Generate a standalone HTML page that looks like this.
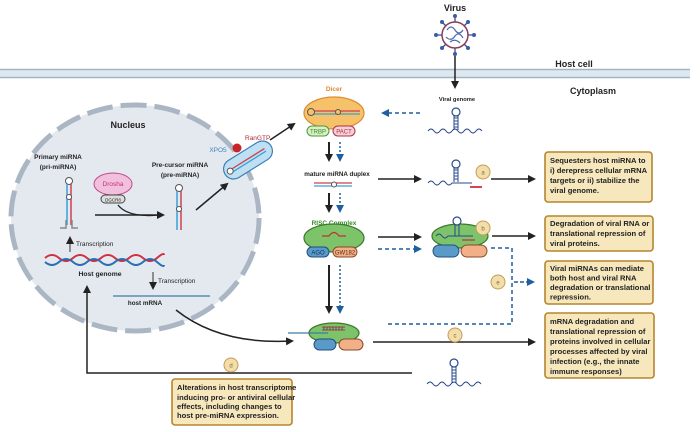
<!DOCTYPE html>
<html><head><meta charset="utf-8"><style>
body{margin:0;background:#fff;}
svg{display:block;font-family:"Liberation Sans",sans-serif;}
.t{font-weight:bold;fill:#222;}
.bx{fill:#f6e7bd;stroke:#b5862e;stroke-width:1.6;}
.bt{font-size:7.6px;font-weight:bold;fill:#222;}
.ci{fill:#f1deaa;stroke:#c79b52;stroke-width:1;}
.ct{font-size:6px;fill:#8a6a30;text-anchor:middle;}
</style></head><body>
<svg width="700" height="432" viewBox="0 0 700 432">
<defs>
<marker id="ak" markerWidth="8" markerHeight="8" refX="6" refY="4" orient="auto" markerUnits="userSpaceOnUse"><path d="M0,0 L8,4 L0,8 z" fill="#222"/></marker>
<marker id="ab" markerWidth="8" markerHeight="8" refX="6" refY="4" orient="auto" markerUnits="userSpaceOnUse"><path d="M0,0 L8,4 L0,8 z" fill="#1f5fa0"/></marker>
</defs>
<rect x="0" y="69" width="690" height="9" fill="#dfe8ef"/>
<line x1="0" y1="69.5" x2="690" y2="69.5" stroke="#9fb6c8" stroke-width="1.5"/>
<line x1="0" y1="77.5" x2="690" y2="77.5" stroke="#9fb6c8" stroke-width="1.5"/>
<text x="574" y="67" class="t" font-size="9" text-anchor="middle">Host cell</text>
<text x="593" y="94" class="t" font-size="9" text-anchor="middle">Cytoplasm</text>
<text x="455" y="11" class="t" font-size="9" text-anchor="middle">Virus</text>
<g stroke="#2f4f9a" stroke-width="1.3">
<line x1="455" y1="16" x2="455" y2="54"/><line x1="436" y1="35" x2="474" y2="35"/>
<line x1="442" y1="22" x2="468" y2="48"/><line x1="468" y1="22" x2="442" y2="48"/>
</g>
<g fill="#3a5ba8"><circle cx="455" cy="16" r="2"/><circle cx="455" cy="54" r="2"/><circle cx="436" cy="35" r="2"/><circle cx="474" cy="35" r="2"/><circle cx="442" cy="22" r="2"/><circle cx="468" cy="48" r="2"/><circle cx="468" cy="22" r="2"/><circle cx="442" cy="48" r="2"/></g>
<circle cx="455" cy="35" r="13" fill="#fff" stroke="#8a3b5a" stroke-width="1.5"/>
<path d="M447,30 q4,-6 8,0 q4,6 8,0 M446,37 q5,5 9,-1 q4,-5 8,2 M450,42 q5,-4 10,1" fill="none" stroke="#4a6ab0" stroke-width="1.2"/>
<line x1="455" y1="56" x2="455" y2="87" stroke="#222" stroke-width="1.5" marker-end="url(#ak)"/>
<ellipse cx="135" cy="218" rx="124" ry="113" fill="#e4e9ef" stroke="#aab6c3" stroke-width="5" stroke-dasharray="26,8"/>
<text x="128" y="128" class="t" font-size="9" text-anchor="middle">Nucleus</text>
<text x="58" y="159" class="t" font-size="6.5" text-anchor="middle">Primary miRNA</text>
<text x="58" y="169" class="t" font-size="6.5" text-anchor="middle">(pri-miRNA)</text>
<circle cx="69" cy="181" r="3.5" fill="#fff" stroke="#555"/>
<line x1="67" y1="184" x2="67" y2="225" stroke="#3aa0d8" stroke-width="1.5"/>
<line x1="71" y1="184" x2="71" y2="225" stroke="#d04050" stroke-width="1.5"/>
<circle cx="69" cy="197" r="2.5" fill="#fff" stroke="#555"/>
<path d="M60,228 h6 v-8 M78,228 h-6 v-8" fill="none" stroke="#888" stroke-width="1.5"/>
<ellipse cx="113" cy="184" rx="19" ry="11" fill="#f2bfdc" stroke="#c04a8a" stroke-width="1"/>
<text x="113" y="186" font-size="6.5" fill="#c0307a" text-anchor="middle">Drosha</text>
<rect x="101" y="195" width="24" height="8" rx="4" fill="#ddd" stroke="#444"/>
<text x="113" y="201.5" font-size="4.5" fill="#222" text-anchor="middle">DGCR8</text>
<path d="M118,205 Q128,218 160,215" fill="none" stroke="#222" stroke-width="1.3"/>
<line x1="95" y1="215" x2="163" y2="215" stroke="#222" stroke-width="1.5" marker-end="url(#ak)"/>
<text x="180" y="167" class="t" font-size="6.5" text-anchor="middle">Pre-cursor miRNA</text>
<text x="180" y="177" class="t" font-size="6.5" text-anchor="middle">(pre-miRNA)</text>
<circle cx="179" cy="188" r="3.5" fill="#fff" stroke="#555"/>
<line x1="177" y1="191" x2="177" y2="230" stroke="#3aa0d8" stroke-width="1.5"/>
<line x1="181" y1="191" x2="181" y2="230" stroke="#d04050" stroke-width="1.5"/>
<circle cx="179" cy="209" r="2.5" fill="#fff" stroke="#555"/>
<line x1="196" y1="210" x2="227" y2="184" stroke="#222" stroke-width="1.5" marker-end="url(#ak)"/>
<g transform="translate(248,160) rotate(-32)">
<rect x="-27" y="-10" width="54" height="20" rx="10" fill="#bfe0f3" stroke="#3a7fb8" stroke-width="1.2"/>
<line x1="-20" y1="-1" x2="20" y2="-1" stroke="#d04050" stroke-width="1.3"/>
<line x1="-20" y1="2" x2="20" y2="2" stroke="#3aa0d8" stroke-width="1.3"/>
<circle cx="-21" cy="0" r="3" fill="#fff" stroke="#555"/>
</g>
<circle cx="237" cy="148" r="4.5" fill="#c8252b"/>
<text x="245" y="140" font-size="6.5" fill="#b02a30">RanGTP</text>
<text x="218" y="152" font-size="6.5" fill="#3a85c0" text-anchor="middle">XPO5</text>
<line x1="270" y1="140" x2="294" y2="124" stroke="#222" stroke-width="1.5" marker-end="url(#ak)"/>
<path d="M45,258 q7,-6 14,0 t14,0 t14,0 t14,0 t14,0 t14,0 t14,0 t14,0 t7,-3" fill="none" stroke="#d03040" stroke-width="2"/>
<path d="M45,262 q7,6 14,0 t14,0 t14,0 t14,0 t14,0 t14,0 t14,0 t14,0 t7,3" fill="none" stroke="#2a6fb5" stroke-width="2"/>
<text x="100" y="276" class="t" font-size="6.8" text-anchor="middle">Host genome</text>
<line x1="70" y1="252" x2="70" y2="238" stroke="#333" stroke-width="1" marker-end="url(#ak)"/>
<text x="76" y="246" font-size="6.5" fill="#222">Transcription</text>
<line x1="153" y1="272" x2="153" y2="288" stroke="#333" stroke-width="1" marker-end="url(#ak)"/>
<text x="158" y="283" font-size="6.5" fill="#222">Transcription</text>
<line x1="113" y1="296" x2="210" y2="296" stroke="#3a7fa8" stroke-width="1.2"/>
<text x="145" y="305" class="t" font-size="6.3" text-anchor="middle">host mRNA</text>
<path d="M176,310 Q220,345 292,341" fill="none" stroke="#222" stroke-width="1.5" marker-end="url(#ak)"/>
<text x="334" y="91" font-size="6.5" font-weight="bold" fill="#e08a30" text-anchor="middle">Dicer</text>
<ellipse cx="334" cy="113" rx="30" ry="16" fill="#f5c26a" stroke="#e08a30" stroke-width="1.2"/>
<line x1="313" y1="111" x2="360" y2="111" stroke="#d04050" stroke-width="1.2"/>
<line x1="313" y1="114" x2="360" y2="114" stroke="#3aa0d8" stroke-width="1.2"/>
<circle cx="311" cy="112" r="3.5" fill="#f5c26a" stroke="#555"/>
<circle cx="338" cy="112" r="2.5" fill="#f5c26a" stroke="#555"/>
<rect x="307" y="126" width="22" height="10" rx="5" fill="#d9efc4" stroke="#4a9a3a"/>
<text x="318" y="133.5" font-size="6" fill="#3a8a2a" text-anchor="middle">TRBP</text>
<rect x="333" y="126" width="22" height="10" rx="5" fill="#f6d0d6" stroke="#b0304a"/>
<text x="344" y="133.5" font-size="6" fill="#b0304a" text-anchor="middle">PACT</text>
<line x1="420" y1="113" x2="383" y2="113" stroke="#1f5fa0" stroke-width="1.5" stroke-dasharray="4,3" marker-end="url(#ab)"/>
<text x="457" y="101" class="t" font-size="5.8" text-anchor="middle">Viral genome</text>
<circle cx="456" cy="112" r="4" fill="#fff" stroke="#2a4a8a" stroke-width="1.2"/>
<path d="M454,115 v15 M458,115 v15 M454,118h4M454,121h4M454,124h4M454,127h4" stroke="#2a4a8a" stroke-width="1"/>
<path d="M428,131 q3,-4 6,0 t6,0 t6,0 t6,0 t6,0 t6,0 t6,0 t6,0 t6,0" fill="none" stroke="#2a4a8a" stroke-width="1"/>
<line x1="329" y1="142" x2="329" y2="160" stroke="#222" stroke-width="2" marker-end="url(#ak)"/>
<line x1="340" y1="142" x2="340" y2="160" stroke="#1f5fa0" stroke-width="1.5" stroke-dasharray="2,2" marker-end="url(#ab)"/>
<text x="337" y="176" class="t" font-size="6.3" text-anchor="middle">mature miRNA duplex</text>
<line x1="314" y1="183" x2="352" y2="183" stroke="#d04050" stroke-width="1.2"/>
<line x1="314" y1="186" x2="352" y2="186" stroke="#3aa0d8" stroke-width="1.2"/>
<circle cx="334" cy="184.5" r="2.5" fill="#fff" stroke="#555"/>
<line x1="329" y1="193" x2="329" y2="211" stroke="#222" stroke-width="2" marker-end="url(#ak)"/>
<line x1="340" y1="193" x2="340" y2="211" stroke="#1f5fa0" stroke-width="1.5" stroke-dasharray="2,2" marker-end="url(#ab)"/>
<text x="334" y="225" font-size="6.5" font-weight="bold" fill="#3a8a2a" text-anchor="middle">RISC Complex</text>
<ellipse cx="334" cy="238" rx="30" ry="14" fill="#7cc36a" stroke="#3a7a2a" stroke-width="1.2"/>
<path d="M322,236 h7 q5,-7 10,0 h7" fill="none" stroke="#c03030" stroke-width="1.2"/>
<rect x="307" y="247" width="22" height="10" rx="5" fill="#5a9ac8" stroke="#1f4f80"/>
<text x="318" y="254.5" font-size="6" fill="#10305a" text-anchor="middle">AGO</text>
<rect x="333" y="247" width="24" height="10" rx="5" fill="#f2b088" stroke="#8a4a2a"/>
<text x="345" y="254.5" font-size="6" fill="#5a2a10" text-anchor="middle">GW182</text>
<line x1="329" y1="265" x2="329" y2="312" stroke="#222" stroke-width="2" marker-end="url(#ak)"/>
<line x1="340" y1="265" x2="340" y2="312" stroke="#1f5fa0" stroke-width="1.5" stroke-dasharray="2,2" marker-end="url(#ab)"/>
<line x1="378" y1="179" x2="420" y2="179" stroke="#222" stroke-width="1.5" marker-end="url(#ak)"/>
<circle cx="456" cy="164" r="4" fill="#fff" stroke="#2a4a8a" stroke-width="1.2"/>
<path d="M454,167 v15 M458,167 v15 M454,170h4M454,173h4M454,176h4M454,179h4" stroke="#2a4a8a" stroke-width="1"/>
<path d="M428,183 q3,-4 6,0 t6,0 t6,0 t6,0 h20" fill="none" stroke="#2a4a8a" stroke-width="1"/>
<line x1="470" y1="187" x2="482" y2="187" stroke="#d03040" stroke-width="1.8"/>
<circle cx="483" cy="172" r="7" class="ci"/><text x="483" y="174.5" class="ct">a</text>
<line x1="491" y1="179" x2="534" y2="179" stroke="#222" stroke-width="1.5" marker-end="url(#ak)"/>
<rect x="545" y="152" width="107" height="50" rx="3" class="bx"/>
<text class="bt"><tspan x="550" y="163">Sequesters host miRNA to</tspan><tspan x="550" y="173">i) derepress cellular mRNA</tspan><tspan x="550" y="183">targets or ii) stabilize the</tspan><tspan x="550" y="193">viral genome.</tspan></text>
<line x1="378" y1="237" x2="420" y2="237" stroke="#222" stroke-width="1.5" marker-end="url(#ak)"/>
<line x1="378" y1="249" x2="420" y2="249" stroke="#1f5fa0" stroke-width="1.5" stroke-dasharray="4,3" marker-end="url(#ab)"/>
<ellipse cx="460" cy="236" rx="28" ry="12" fill="#7cc36a" stroke="#3a7a2a" stroke-width="1.2"/>
<circle cx="457" cy="221" r="4" fill="#fff" stroke="#2a4a8a" stroke-width="1.2"/>
<path d="M455,224 v12 M459,224 v12" stroke="#2a4a8a" stroke-width="1"/>
<path d="M436,236 q3,-4 6,0 t6,0 h25" fill="none" stroke="#2a4a8a" stroke-width="1"/>
<line x1="462" y1="240" x2="475" y2="240" stroke="#d03040" stroke-width="1.3"/>
<rect x="433" y="245" width="26" height="12" rx="6" fill="#5a9ac8" stroke="#1f4f80"/>
<rect x="461" y="245" width="26" height="12" rx="6" fill="#f2b088" stroke="#8a4a2a"/>
<circle cx="483" cy="228" r="7" class="ci"/><text x="483" y="230.5" class="ct">b</text>
<line x1="492" y1="236" x2="534" y2="236" stroke="#222" stroke-width="1.5" marker-end="url(#ak)"/>
<rect x="545" y="216" width="108" height="35" rx="3" class="bx"/>
<text class="bt"><tspan x="550" y="226">Degradation of viral RNA or</tspan><tspan x="550" y="236">translational repression of</tspan><tspan x="550" y="246">viral proteins.</tspan></text>
<path d="M491,248 H512 V324 H387" fill="none" stroke="#1f5fa0" stroke-width="1.5" stroke-dasharray="4,3"/>
<line x1="514" y1="282" x2="533" y2="282" stroke="#1f5fa0" stroke-width="1.5" stroke-dasharray="4,2" marker-end="url(#ab)"/>
<circle cx="498" cy="282" r="7" class="ci"/><text x="498" y="284.5" class="ct">e</text>
<rect x="545" y="261" width="108" height="43" rx="3" class="bx"/>
<text class="bt"><tspan x="550" y="271">Viral miRNAs can mediate</tspan><tspan x="550" y="280.5">both host and viral RNA</tspan><tspan x="550" y="290">degradation or translational</tspan><tspan x="550" y="299.5">repression.</tspan></text>
<ellipse cx="334" cy="333" rx="25" ry="10" fill="#7cc36a" stroke="#3a7a2a" stroke-width="1.2"/>
<line x1="288" y1="333" x2="328" y2="333" stroke="#3a7fa8" stroke-width="1.2"/>
<path d="M322,327 h23 M322,330 h23" stroke="#c03030" stroke-width="1"/>
<path d="M324,327 v3 M327,327 v3 M330,327 v3 M333,327 v3 M336,327 v3 M339,327 v3 M342,327 v3" stroke="#2a4a8a" stroke-width="0.8"/>
<rect x="314" y="339" width="22" height="11" rx="5.5" fill="#5a9ac8" stroke="#1f4f80"/>
<rect x="339" y="339" width="24" height="11" rx="5.5" fill="#f2b088" stroke="#8a4a2a"/>
<line x1="373" y1="342" x2="534" y2="342" stroke="#222" stroke-width="1.5" marker-end="url(#ak)"/>
<circle cx="455" cy="335" r="7" class="ci"/><text x="455" y="337.5" class="ct">c</text>
<rect x="545" y="313" width="109" height="65" rx="3" class="bx"/>
<text class="bt"><tspan x="550" y="324">mRNA degradation and</tspan><tspan x="550" y="334">translational repression of</tspan><tspan x="550" y="344">proteins involved in cellular</tspan><tspan x="550" y="354">processes affected by viral</tspan><tspan x="550" y="364">infection (e.g., the innate</tspan><tspan x="550" y="374">immune responses)</tspan></text>
<circle cx="454" cy="363" r="4" fill="#fff" stroke="#2a4a8a" stroke-width="1.2"/>
<path d="M452,366 v17 M456,366 v17 M452,370h4M452,373h4M452,376h4M452,379h4" stroke="#2a4a8a" stroke-width="1"/>
<path d="M427,384 q3,-4 6,0 t6,0 t6,0 t6,0 t6,0 t6,0 t6,0 t6,0 t6,0" fill="none" stroke="#2a4a8a" stroke-width="1"/>
<path d="M412,373 H87 V287" fill="none" stroke="#222" stroke-width="1.5" marker-end="url(#ak)"/>
<circle cx="231" cy="365" r="7" class="ci"/><text x="231" y="367.5" class="ct">d</text>
<rect x="172" y="379" width="120" height="46" rx="3" class="bx"/>
<text class="bt"><tspan x="177" y="390">Alterations in host transcriptome</tspan><tspan x="177" y="400">inducing pro- or antiviral cellular</tspan><tspan x="177" y="409">effects, including changes to</tspan><tspan x="177" y="418">host pre-miRNA expression.</tspan></text>
</svg>
</body></html>
